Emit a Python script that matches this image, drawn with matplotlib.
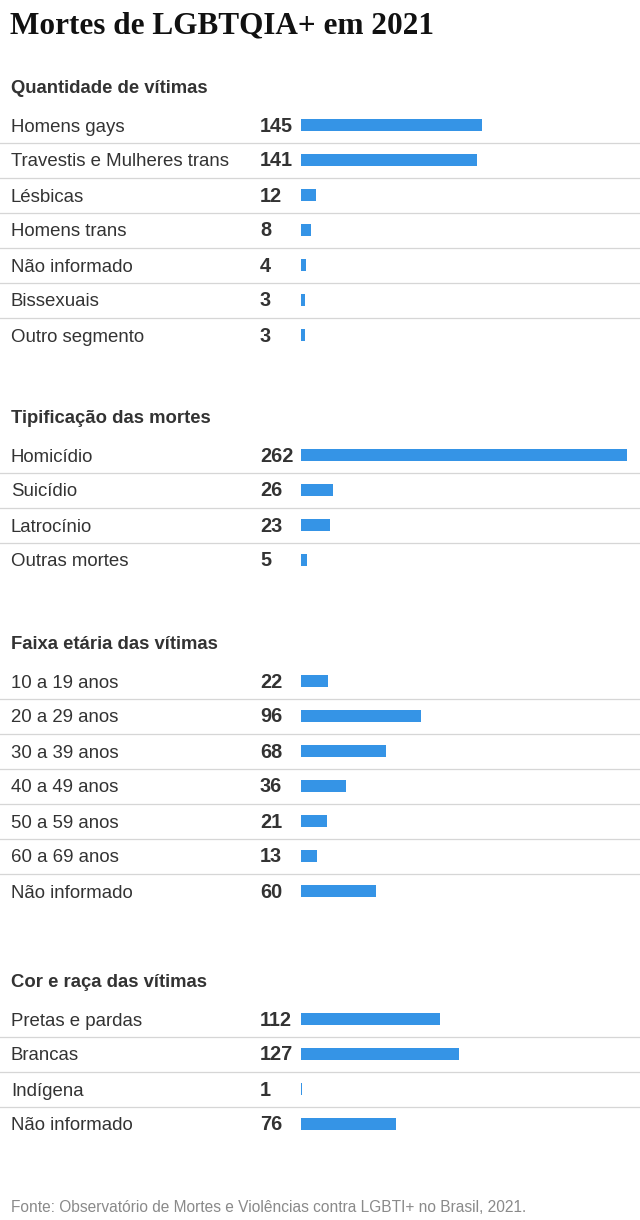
import matplotlib
matplotlib.use("Agg")
import matplotlib.pyplot as plt
import matplotlib.transforms as mtransforms

# ---- data ----
title = "Mortes de LGBTQIA+ em 2021"
source = "Fonte: Observatório de Mortes e Violências contra LGBTI+ no Brasil, 2021."

sec1_title = "Quantidade de vítimas"
sec1_labels = ["Homens gays", "Travestis e Mulheres trans", "Lésbicas", "Homens trans",
               "Não informado", "Bissexuais", "Outro segmento"]
sec1_values = [145, 141, 12, 8, 4, 3, 3]

sec2_title = "Tipificação das mortes"
sec2_labels = ["Homicídio", "Suicídio", "Latrocínio", "Outras mortes"]
sec2_values = [262, 26, 23, 5]

sec3_title = "Faixa etária das vítimas"
sec3_labels = ["10 a 19 anos", "20 a 29 anos", "30 a 39 anos", "40 a 49 anos",
               "50 a 59 anos", "60 a 69 anos", "Não informado"]
sec3_values = [22, 96, 68, 36, 21, 13, 60]

sec4_title = "Cor e raça das vítimas"
sec4_labels = ["Pretas e pardas", "Brancas", "Indígena", "Não informado"]
sec4_values = [112, 127, 1, 76]

sections = [
    (sec1_title, sec1_labels, sec1_values),
    (sec2_title, sec2_labels, sec2_values),
    (sec3_title, sec3_labels, sec3_values),
    (sec4_title, sec4_labels, sec4_values),
]

# ---- layout (pixels) ----
W, H = 640, 1220
DPI = 100
first_rows = [125, 455, 681, 1019]
ROW = 35
BAR_X0 = 301
PX_PER_UNIT = 1.245
BAR_COLOR = "#3594e6"
TXT = "#333333"
SEP = "#d6d6d6"

plt.rcParams['font.family'] = ['Liberation Sans', 'DejaVu Sans']

fig = plt.figure(figsize=(W / DPI, H / DPI), dpi=DPI)
fig.patch.set_facecolor("white")

fig.text(10 / W, 1 - 33 / H, title, family=['Liberation Serif', 'DejaVu Serif'],
         fontweight='bold', fontsize=22.5, color="#111111", va='baseline', ha='left')

for (stitle, labels, values), r0 in zip(sections, first_rows):
    n = len(labels)
    top = r0 - ROW / 2
    ax = fig.add_axes([0, 1 - (top + n * ROW) / H, 1, n * ROW / H])
    ax.set_xlim(-BAR_X0 / PX_PER_UNIT, (W - BAR_X0) / PX_PER_UNIT)
    ax.set_ylim(n - 0.5, -0.5)
    ax.axis('off')
    ypos = list(range(n))
    ax.barh(ypos, values, height=12 / ROW, color=BAR_COLOR, left=0)
    for i in range(n - 1):
        ax.axhline(i + 0.5, color=SEP, lw=0.9)
    blend = mtransforms.blended_transform_factory(fig.transFigure, ax.transData)
    base = mtransforms.offset_copy(blend, fig=fig, x=0, y=-6.5, units='dots')
    for i, (lab, v) in enumerate(zip(labels, values)):
        ax.text(11 / W, i, lab, transform=base, fontsize=13.38, color=TXT,
                va='baseline', ha='left')
        ax.text(260 / W, i, str(v), transform=base, fontsize=14.3, fontweight='bold',
                color=TXT, va='baseline', ha='left')
    head = mtransforms.offset_copy(blend, fig=fig, x=0, y=32, units='dots')
    ax.text(11 / W, 0, stitle, transform=head, fontsize=13.35, fontweight='bold',
            color=TXT, va='baseline', ha='left')

fig.text(11 / W, 1 - 1212 / H, source, fontsize=11.17, color="#8a8a8a",
         va='baseline', ha='left')

fig.savefig("out.png", dpi=DPI, facecolor="white")
